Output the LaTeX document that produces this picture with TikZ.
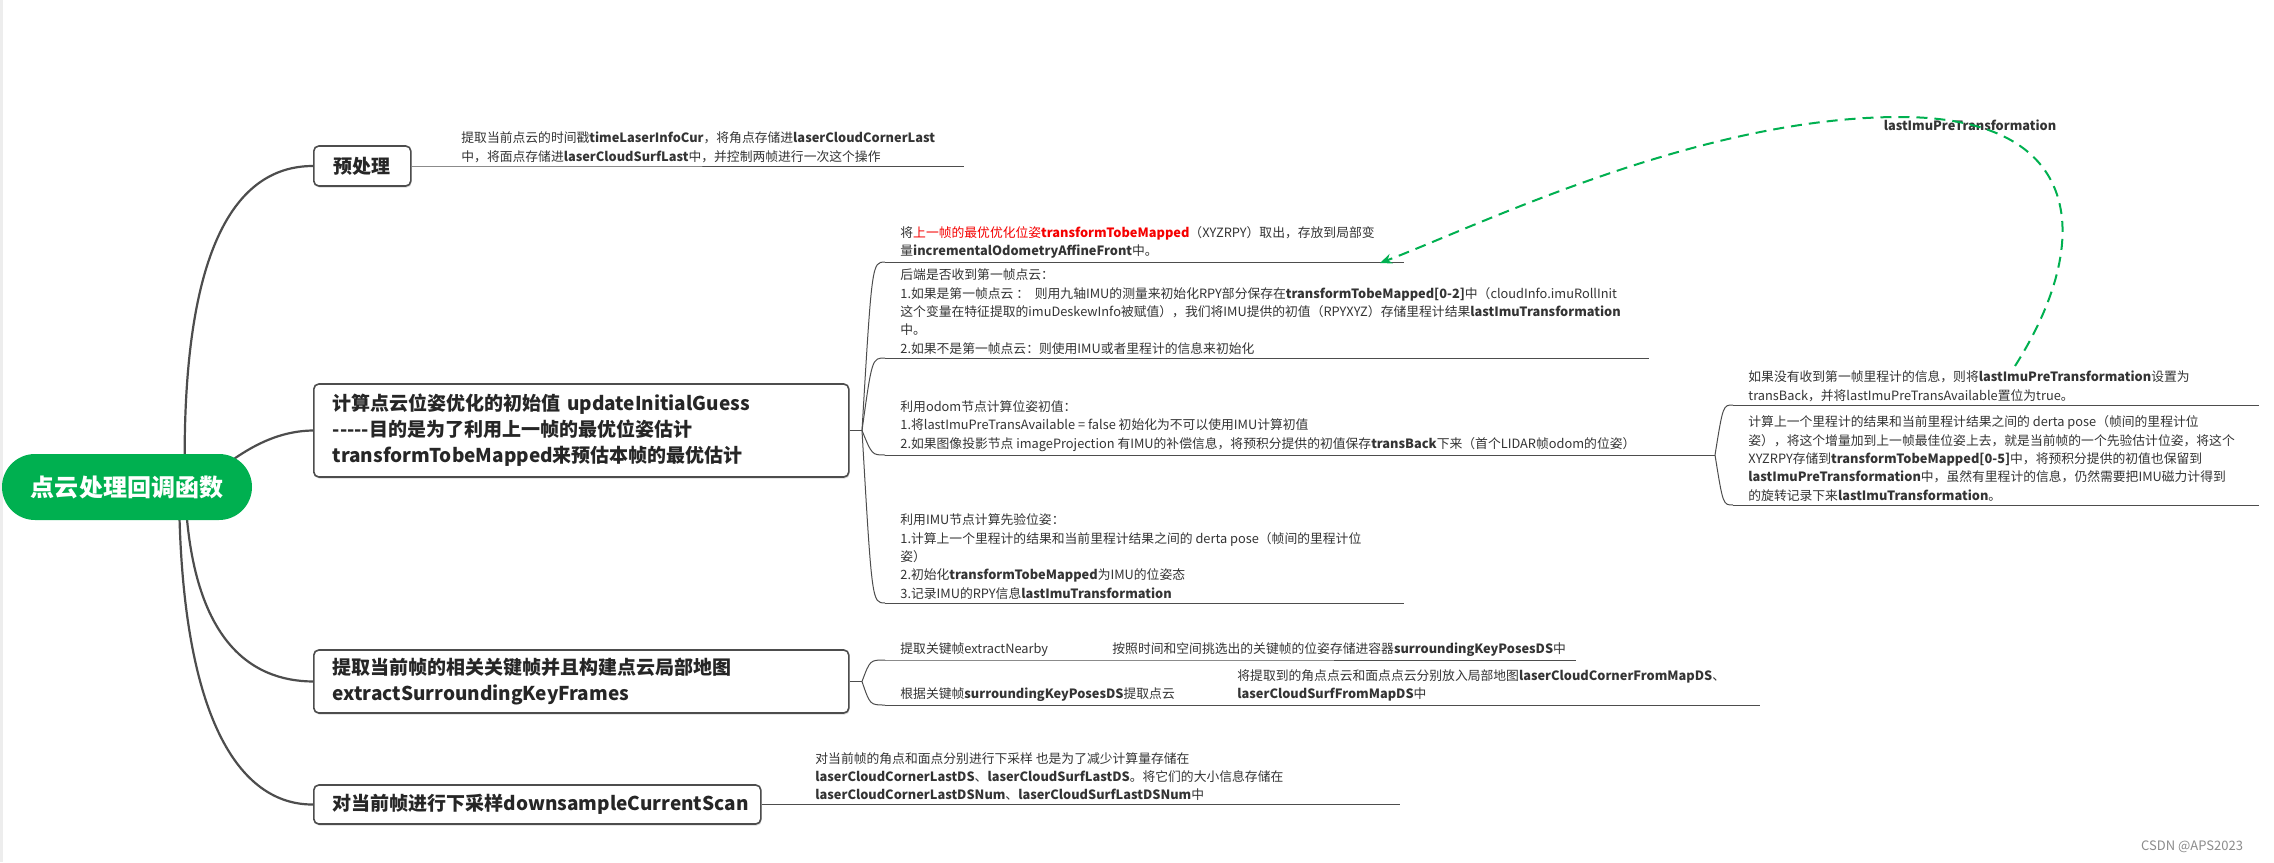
\documentclass[tikz,border=0pt]{standalone}
\usepackage{fontspec}
\setmainfont{Noto Sans CJK SC}
\usetikzlibrary{positioning}
\usetikzlibrary{calc}
\usetikzlibrary{arrows.meta,shadows,backgrounds}

\definecolor{mmgreen}{RGB}{0,176,80}
\definecolor{mmline}{RGB}{77,77,77}
\definecolor{mmtext}{RGB}{52,52,52}
\definecolor{mmred}{RGB}{245,0,0}

\begin{document}
\begin{tikzpicture}[x=0.5pt,y=-0.5pt,
  root/.style={fill=mmgreen,text=white,rounded corners=16.5pt,minimum width=125pt,
    minimum height=33pt,font=\fontsize{12}{14}\selectfont\bfseries},
  topic/.style={draw=mmline,fill=white,line width=0.8pt,rounded corners=2.5pt,
    inner xsep=9.5pt,align=left,text=black!85,font=\fontsize{9.5}{13}\selectfont\bfseries,
    drop shadow={shadow xshift=0.4pt,shadow yshift=-0.8pt,opacity=0.3}},
  note/.style={anchor=south west,inner xsep=7.5pt,inner ysep=1.6pt,align=left,
    text=mmtext,font=\fontsize{6.4}{9.2}\selectfont},
  branch/.style={draw=mmline,line width=1.1pt},
  twig/.style={draw=mmline,line width=0.5pt},
  relarrow/.style={draw=mmgreen,line width=1pt,dash pattern=on 5.5pt off 3.5pt,
    -{Stealth[length=6pt,width=5pt]}}]

\useasboundingbox (0,0) rectangle (2274,862);

% main topics
\node[root] (root) at (127,487) {点云处理回调函数};
\node[topic,anchor=west,minimum width=48.5pt,minimum height=20pt,align=center,inner xsep=0pt]
  (pre) at (313,166) {预处理};
\node[topic,anchor=west,text width=248.5pt,minimum height=46.5pt] (guess) at (313,430.5)
  {计算点云位姿优化的初始值 updateInitialGuess\\-{}-{}-{}-{}-目的是为了利用上一帧的最优位姿估计\\transformTobeMapped来预估本帧的最优估计};
\node[topic,anchor=west,text width=248.5pt,minimum height=31.5pt] (keyfr) at (313,681.5)
  {提取当前帧的相关关键帧并且构建点云局部地图\\extractSurroundingKeyFrames};
\node[topic,anchor=west,text width=204.5pt,minimum height=19.5pt] (down) at (313,804.5)
  {对当前帧进行下采样downsampleCurrentScan};

\begin{scope}[on background layer]
\fill[white] (0,0) rectangle (2274,862);
\draw[black!7,line width=1.5pt] (1.5,0) -- (1.5,862);
\draw[branch] ([xshift=29pt]root.center) .. controls (180,260) and (230,166) .. (pre.west);
\draw[branch] ([xshift=36pt]root.center) .. controls (235,455) and (270,431) .. (guess.west);
\draw[branch] ([xshift=29pt]root.center) .. controls (190,640) and (250,681) .. (keyfr.west);
\draw[branch] ([xshift=26pt]root.center) .. controls (180,720) and (240,805) .. (down.west);
\end{scope}

% preprocessing
\node[note] (preN) at (446,166) {提取当前点云的时间戳\textbf{timeLaserInfoCur}，将角点存储进\textbf{laserCloudCornerLast}\\中，将面点存储进\textbf{laserCloudSurfLast}中，并控制两帧进行一次这个操作};
\draw[twig] (pre.east) -- (preN.south west) -- ++(518,0);

% initial guess
\coordinate (gHub) at (862,430.5);
\node[note] (lastPose) at (885,262) {将{\color{mmred}上一帧的最优优化位姿\textbf{transformTobeMapped}}（XYZRPY）取出，存放到局部变\\量\textbf{incrementalOdometryAffineFront}中。};
\node[note] (firstScan) at (885,358) {后端是否收到第一帧点云：\\1.如果是第一帧点云 ：\ \ 则用九轴IMU的测量来初始化RPY部分保存在\textbf{transformTobeMapped[0-2]}中（cloudInfo.imuRollInit\\这个变量在特征提取的imuDeskewInfo被赋值），我们将IMU提供的初值（RPYXYZ）存储里程计结果\textbf{lastImuTransformation}\\中。\\2.如果不是第一帧点云：则使用IMU或者里程计的信息来初始化};
\node[note] (odomInit) at (885,455) {利用odom节点计算位姿初值：\\1.将lastImuPreTransAvailable = false 初始化为不可以使用IMU计算初值\\2.如果图像投影节点 imageProjection 有IMU的补偿信息，将预积分提供的初值保存\textbf{transBack}下来（首个LIDAR帧odom的位姿）};
\node[note] (imuInit) at (885,603) {利用IMU节点计算先验位姿：\\1.计算上一个里程计的结果和当前里程计结果之间的 derta pose（帧间的里程计位\\姿）\\2.初始化\textbf{transformTobeMapped}为IMU的位姿态\\3.记录IMU的RPY信息\textbf{lastImuTransformation}};

\draw[twig] (guess.east) -- (gHub);
\foreach \n in {lastPose,firstScan,odomInit,imuInit}
  \draw[twig] (gHub) .. controls ($(gHub |- \n.south west)+(10,0)$) .. (\n.south west);
\draw[twig] (lastPose.south west) -- ++(519,0);
\draw[twig] (firstScan.south west) -- ++(764,0);
\draw[twig] (imuInit.south west) -- ++(519,0);

% odom branch
\coordinate (oHub) at (1715,455);
\node[note] (noOdom) at (1733,405) {如果没有收到第一帧里程计的信息，则将\textbf{lastImuPreTransformation}设置为\\transBack，并将lastImuPreTransAvailable置位为true。};
\node[note] (deltaPose) at (1733,505) {计算上一个里程计的结果和当前里程计结果之间的 derta pose（帧间的里程计位\\姿），将这个增量加到上一帧最佳位姿上去，就是当前帧的一个先验估计位姿，将这个\\XYZRPY存储到\textbf{transformTobeMapped[0-5]}中，将预积分提供的初值也保留到\\\textbf{lastImuPreTransformation}中，虽然有里程计的信息，仍然需要把IMU磁力计得到\\的旋转记录下来\textbf{lastImuTransformation}。};
\draw[twig] (odomInit.south west) -- (oHub);
\foreach \n in {noOdom,deltaPose}
  \draw[twig] (oHub) .. controls ($(oHub |- \n.south west)+(8,0)$) .. (\n.south west);
\draw[twig] (noOdom.south west) -- ++(526,0);
\draw[twig] (deltaPose.south west) -- ++(526,0);

% relation
\coordinate (arrFrom) at (2015,366);
\coordinate (arrTo) at (1380,263);
\node[font=\fontsize{6.4}{8}\selectfont\bfseries,text=mmtext] (lipt) at (1970,125) {lastImuPreTransformation};
\draw[relarrow] (arrFrom) .. controls (2095,240) and (2085,117) .. (1900,117)
  .. controls (1700,117) and (1480,225) .. (arrTo);

% surrounding key frames
\coordinate (kHub) at (862,681.5);
\node[note] (extNearby) at (885,660) {提取关键帧extractNearby};
\node[note] (keyPoses) at (1097,660) {按照时间和空间挑选出的关键帧的位姿存储进容器\textbf{surroundingKeyPosesDS}中};
\node[note] (getCloud) at (885,705) {根据关键帧\textbf{surroundingKeyPosesDS}提取点云};
\node[note] (localMap) at (1222,705) {将提取到的角点点云和面点点云分别放入局部地图\textbf{laserCloudCornerFromMapDS}、\\\textbf{laserCloudSurfFromMapDS}中};
\draw[twig] (keyfr.east) -- (kHub);
\foreach \n in {extNearby,getCloud}
  \draw[twig] (kHub) .. controls ($(kHub |- \n.south west)+(8,0)$) .. (\n.south west);
\draw[twig] (extNearby.south west) -- (keyPoses.south west) -- ++(479,0);
\draw[twig] (getCloud.south west) -- (localMap.south west) -- ++(538,0);

% downsample
\node[note] (dsNote) at (800,804.5) {对当前帧的角点和面点分别进行下采样 也是为了减少计算量存储在\\\textbf{laserCloudCornerLastDS}、\textbf{laserCloudSurfLastDS}。将它们的大小信息存储在\\\textbf{laserCloudCornerLastDSNum}、\textbf{laserCloudSurfLastDSNum}中};
\draw[twig] (down.east) -- (dsNote.south west) -- ++(600,0);

\node[anchor=east,text=black!45,font=\fontsize{6.5}{8}\selectfont] (mark) at (2250,847) {CSDN @APS2023};

\end{tikzpicture}
\end{document}
